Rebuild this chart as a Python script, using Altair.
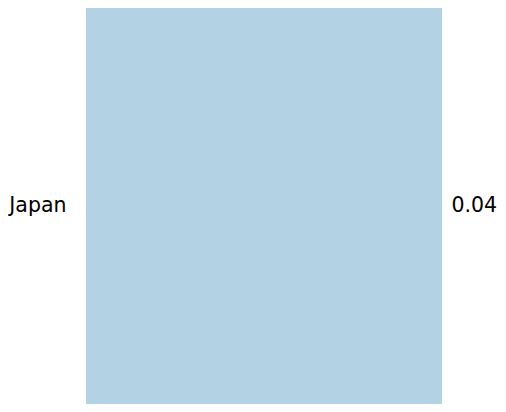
import altair as alt
import pandas as pd

countries = ["Japan"]
values = [0.04]
value_labels = ["0.04"]

df = pd.DataFrame({"country": countries, "value": values, "label": value_labels})

base = alt.Chart(df)

cells = base.mark_rect(color="#b3d3e5").encode(
    y=alt.Y("country:N", title=None,
            axis=alt.Axis(ticks=False, domain=False, labelFontSize=20.5,
                          labelFont="DejaVu Sans", labelColor="#000000",
                          labelPadding=20)),
)

right = base.mark_rect(opacity=0).encode(
    y=alt.Y("label:N", title=None,
            axis=alt.Axis(orient="right", ticks=False, domain=False,
                          labelFontSize=20.5, labelFont="DejaVu Sans",
                          labelColor="#000000", labelPadding=9)),
)

chart = alt.layer(cells, right).resolve_scale(y="independent").properties(
    width=356, height=396, padding=0
).configure_view(stroke=None).configure_scale(bandPaddingInner=0, bandPaddingOuter=0)

chart.save("out.html", embed_options={"renderer": "svg", "actions": False})
